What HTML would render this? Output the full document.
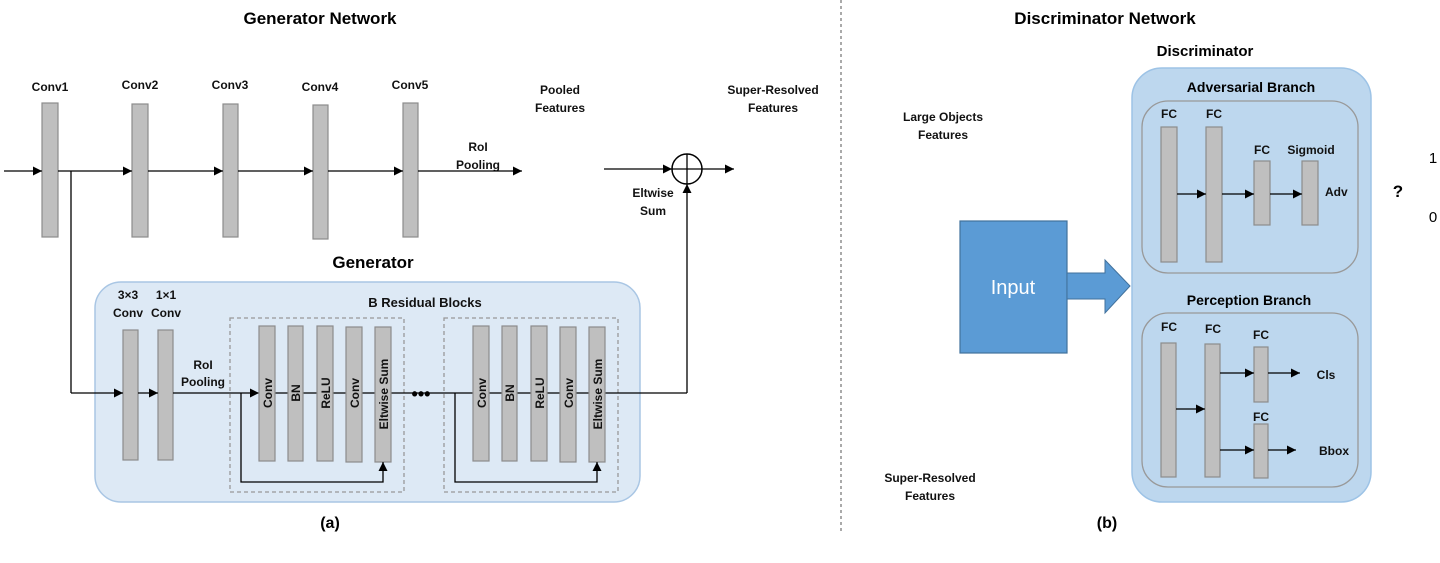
<!DOCTYPE html>
<html><head><meta charset="utf-8"><style>
html,body{margin:0;padding:0;background:#fff;}
svg{display:block;font-family:"Liberation Sans",sans-serif;}
.b{font-weight:bold;font-size:12px;fill:#111;}
.bar{fill:#bfbfbf;stroke:#8c8c8c;stroke-width:1.2;}
.ln{stroke:#000;stroke-width:1.3;fill:none;}
</style></head><body>
<svg width="1440" height="563" viewBox="0 0 1440 563" xmlns="http://www.w3.org/2000/svg">
<defs>
<marker id="a" viewBox="0 0 10 10" refX="10" refY="5" markerWidth="10" markerHeight="9" markerUnits="userSpaceOnUse" orient="auto"><path d="M0,0L10,5L0,10z" fill="#000"/></marker>
</defs>
<text x="320" y="24" text-anchor="middle" font-weight="bold" font-size="17">Generator Network</text>
<text x="1105" y="24" text-anchor="middle" font-weight="bold" font-size="17">Discriminator Network</text>
<line x1="841" y1="0" x2="841" y2="532" stroke="#555" stroke-width="1" stroke-dasharray="3,3"/>
<text x="330" y="528" text-anchor="middle" font-weight="bold" font-size="16">(a)</text>
<text x="1107" y="528" text-anchor="middle" font-weight="bold" font-size="16">(b)</text>

<g class="b" text-anchor="middle">
<text x="50" y="91">Conv1</text><text x="140" y="89">Conv2</text><text x="230" y="89">Conv3</text><text x="320" y="91">Conv4</text><text x="410" y="89">Conv5</text>
<text x="478" y="151">RoI</text><text x="478" y="169">Pooling</text>
<text x="560" y="94">Pooled</text><text x="560" y="112">Features</text>
<text x="773" y="94">Super-Resolved</text><text x="773" y="112">Features</text>
<text x="653" y="197">Eltwise</text><text x="653" y="215">Sum</text>
</g>
<rect class="bar" x="42" y="103" width="16" height="134"/>
<rect class="bar" x="132" y="104" width="16" height="133"/>
<rect class="bar" x="223" y="104" width="15" height="133"/>
<rect class="bar" x="313" y="105" width="15" height="134"/>
<rect class="bar" x="403" y="103" width="15" height="134"/>
<line class="ln" x1="4" y1="171" x2="42" y2="171" marker-end="url(#a)"/>
<line class="ln" x1="58" y1="171" x2="132" y2="171" marker-end="url(#a)"/>
<line class="ln" x1="148" y1="171" x2="223" y2="171" marker-end="url(#a)"/>
<line class="ln" x1="238" y1="171" x2="313" y2="171" marker-end="url(#a)"/>
<line class="ln" x1="328" y1="171" x2="403" y2="171" marker-end="url(#a)"/>
<line class="ln" x1="418" y1="171" x2="522" y2="171" marker-end="url(#a)"/>
<line class="ln" x1="604" y1="169" x2="672" y2="169" marker-end="url(#a)"/>
<circle cx="687" cy="169" r="15" fill="none" stroke="#000" stroke-width="1.5"/>
<line class="ln" x1="672" y1="169" x2="702" y2="169"/><line class="ln" x1="687" y1="154" x2="687" y2="184"/>
<line class="ln" x1="702" y1="169" x2="734" y2="169" marker-end="url(#a)"/>
<line class="ln" x1="687" y1="393" x2="687" y2="184" marker-end="url(#a)"/>

<text x="373" y="268" text-anchor="middle" font-weight="bold" font-size="17">Generator</text>
<rect x="95" y="282" width="545" height="220" rx="26" fill="#dde9f5" stroke="#a9c6e4" stroke-width="1.5"/>
<g class="b" text-anchor="middle">
<text x="128" y="299">3×3</text><text x="128" y="317">Conv</text>
<text x="166" y="299">1×1</text><text x="166" y="317">Conv</text>
<text x="425" y="307" font-size="13">B Residual Blocks</text>
<text x="203" y="369">RoI</text><text x="203" y="386">Pooling</text>
</g>
<rect class="bar" x="123" y="330" width="15" height="130"/>
<rect class="bar" x="158" y="330" width="15" height="130"/>
<line class="ln" x1="71" y1="171" x2="71" y2="393"/>
<line class="ln" x1="71" y1="393" x2="123" y2="393" marker-end="url(#a)"/>
<line class="ln" x1="138" y1="393" x2="158" y2="393" marker-end="url(#a)"/>
<line class="ln" x1="173" y1="393" x2="259" y2="393" marker-end="url(#a)"/>
<rect x="230" y="318" width="174" height="174" fill="none" stroke="#999" stroke-width="1.3" stroke-dasharray="4,3"/>
<rect x="444" y="318" width="174" height="174" fill="none" stroke="#999" stroke-width="1.3" stroke-dasharray="4,3"/>
<line class="ln" x1="275" y1="393" x2="687" y2="393"/>
<text x="421" y="400" text-anchor="middle" font-weight="bold" font-size="18">•••</text>
<g>
<rect class="bar" x="259" y="326" width="16" height="135"/>
<rect class="bar" x="288" y="326" width="15" height="135"/>
<rect class="bar" x="317" y="326" width="16" height="135"/>
<rect class="bar" x="346" y="327" width="16" height="135"/>
<rect class="bar" x="375" y="327" width="16" height="135"/>
<rect class="bar" x="473" y="326" width="16" height="135"/>
<rect class="bar" x="502" y="326" width="15" height="135"/>
<rect class="bar" x="531" y="326" width="16" height="135"/>
<rect class="bar" x="560" y="327" width="16" height="135"/>
<rect class="bar" x="589" y="327" width="16" height="135"/>
</g>
<g font-size="12" fill="#111" font-weight="bold">
<text transform="translate(272,393) rotate(-90)" text-anchor="middle">Conv</text>
<text transform="translate(300,393) rotate(-90)" text-anchor="middle">BN</text>
<text transform="translate(330,393) rotate(-90)" text-anchor="middle">ReLU</text>
<text transform="translate(359,393) rotate(-90)" text-anchor="middle">Conv</text>
<text transform="translate(388,394) rotate(-90)" text-anchor="middle">Eltwise Sum</text>
<text transform="translate(486,393) rotate(-90)" text-anchor="middle">Conv</text>
<text transform="translate(514,393) rotate(-90)" text-anchor="middle">BN</text>
<text transform="translate(544,393) rotate(-90)" text-anchor="middle">ReLU</text>
<text transform="translate(573,393) rotate(-90)" text-anchor="middle">Conv</text>
<text transform="translate(602,394) rotate(-90)" text-anchor="middle">Eltwise Sum</text>
</g>
<polyline class="ln" points="241,393 241,482 383,482 383,462" marker-end="url(#a)"/>
<polyline class="ln" points="455,393 455,482 597,482 597,462" marker-end="url(#a)"/>

<g class="b" text-anchor="middle">
<text x="943" y="121">Large Objects</text><text x="943" y="139">Features</text>
<text x="930" y="482">Super-Resolved</text><text x="930" y="500">Features</text>
</g>
<rect x="960" y="221" width="107" height="132" fill="#5b9bd5" stroke="#41719c" stroke-width="1.2"/>
<text x="1013" y="294" text-anchor="middle" fill="#fff" font-size="20">Input</text>
<path d="M1067,273 L1105,273 L1105,260 L1130,286 L1105,313 L1105,299 L1067,299 Z" fill="#5b9bd5" stroke="#41719c" stroke-width="1"/>

<text x="1205" y="56" text-anchor="middle" font-weight="bold" font-size="15">Discriminator</text>
<rect x="1132" y="68" width="239" height="434" rx="30" fill="#bdd7ee" stroke="#9dc3e6" stroke-width="1.5"/>
<text x="1251" y="92" text-anchor="middle" font-weight="bold" font-size="14">Adversarial Branch</text>
<rect x="1142" y="101" width="216" height="172" rx="26" fill="none" stroke="#999" stroke-width="1.3"/>
<text x="1249" y="305" text-anchor="middle" font-weight="bold" font-size="14">Perception Branch</text>
<rect x="1142" y="313" width="216" height="174" rx="26" fill="none" stroke="#999" stroke-width="1.3"/>
<g class="b" text-anchor="middle">
<text x="1169" y="118">FC</text><text x="1214" y="118">FC</text><text x="1262" y="154">FC</text><text x="1311" y="154">Sigmoid</text>
<text x="1169" y="331">FC</text><text x="1213" y="333">FC</text><text x="1261" y="339">FC</text><text x="1261" y="421">FC</text>
<text x="1326" y="379">Cls</text><text x="1334" y="455">Bbox</text>
</g>
<text x="1325" y="196" class="b" font-size="13">Adv</text>
<rect class="bar" x="1161" y="127" width="16" height="135"/>
<rect class="bar" x="1206" y="127" width="16" height="135"/>
<rect class="bar" x="1254" y="161" width="16" height="64"/>
<rect class="bar" x="1302" y="161" width="16" height="64"/>
<line class="ln" x1="1177" y1="194" x2="1206" y2="194" marker-end="url(#a)"/>
<line class="ln" x1="1222" y1="194" x2="1254" y2="194" marker-end="url(#a)"/>
<line class="ln" x1="1270" y1="194" x2="1302" y2="194" marker-end="url(#a)"/>
<rect class="bar" x="1161" y="343" width="15" height="134"/>
<rect class="bar" x="1205" y="344" width="15" height="133"/>
<rect class="bar" x="1254" y="347" width="14" height="55"/>
<rect class="bar" x="1254" y="424" width="14" height="54"/>
<line class="ln" x1="1176" y1="409" x2="1205" y2="409" marker-end="url(#a)"/>
<line class="ln" x1="1220" y1="373" x2="1254" y2="373" marker-end="url(#a)"/>
<line class="ln" x1="1268" y1="373" x2="1300" y2="373" marker-end="url(#a)"/>
<line class="ln" x1="1220" y1="450" x2="1254" y2="450" marker-end="url(#a)"/>
<line class="ln" x1="1268" y1="450" x2="1296" y2="450" marker-end="url(#a)"/>
<text x="1398" y="197" text-anchor="middle" font-weight="bold" font-size="17">?</text>
<text x="1433" y="163" text-anchor="middle" font-size="15">1</text>
<text x="1433" y="222" text-anchor="middle" font-size="15">0</text>
</svg>
</body></html>
